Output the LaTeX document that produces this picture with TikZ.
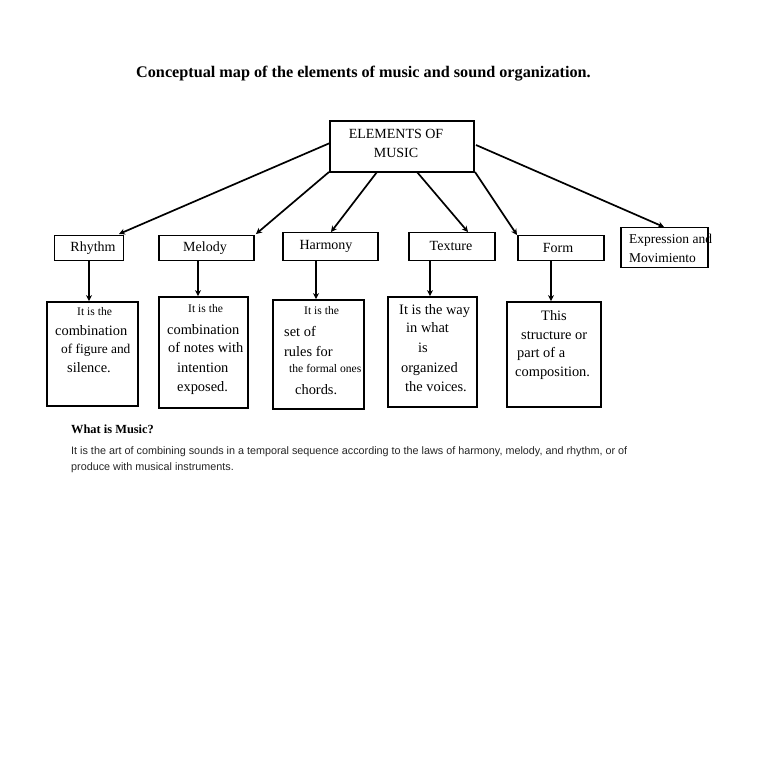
\documentclass[tikz,border=0pt]{standalone}
\usepackage{fontspec}
\setmainfont{Liberation Serif}
\setsansfont{Liberation Sans}
\usetikzlibrary{arrows.meta}
\tikzset{
  box/.style={draw=black, line width=1.8pt, inner sep=0pt},
  conn/.style={line width=1.7pt, -{Stealth[length=6pt,width=6pt]}},
  txt/.style={inner sep=0pt, anchor=base west, font=\fontsize{14.4}{16}\selectfont},
  small/.style={inner sep=0pt, anchor=base west, font=\fontsize{11.6}{13}\selectfont},
  lbl/.style={inner sep=0pt, font=\fontsize{14}{16}\selectfont},
}
\begin{document}
\begin{tikzpicture}[x=1pt,y=-1pt]
\path[use as bounding box, fill=white] (0,0) rectangle (768,762);

\node[inner sep=0pt, anchor=base west, font=\fontsize{16.2}{18}\selectfont\bfseries] (title) at (136,78) {Conceptual map of the elements of music and sound organization.};

% main box
\node[box, minimum width=144pt, minimum height=51pt] (elem) at (402,146.5) {};
\node[lbl] (elemA) at (396,134) {ELEMENTS OF};
\node[lbl] (elemB) at (396,153) {MUSIC};

% category boxes
\node[box, minimum width=69pt, minimum height=25pt] (rhy) at (89,248) {};
\node[lbl] (rhyT) at (93,248) {Rhythm};
\node[box, minimum width=95pt, minimum height=25pt] (mel) at (206.5,248) {};
\node[lbl] (melT) at (205,248) {Melody};
\node[box, minimum width=95pt, minimum height=28pt] (har) at (330.5,246.5) {};
\node[lbl] (harT) at (326,246) {Harmony};
\node[box, minimum width=86pt, minimum height=28pt] (tex) at (452,246.5) {};
\node[lbl] (texT) at (451,246) {Texture};
\node[box, minimum width=86pt, minimum height=25pt] (frm) at (561,248) {};
\node[lbl] (frmT) at (558,248) {Form};
\node[box, minimum width=87pt, minimum height=40pt] (exp) at (664.5,247.5) {};
\node[inner sep=0pt, anchor=base west, font=\fontsize{13.5}{15}\selectfont] (expA) at (629,243) {Expression and};
\node[inner sep=0pt, anchor=base west, font=\fontsize{13.5}{15}\selectfont] (expB) at (629,262) {Movimiento};

% connectors from main box
\coordinate (e1) at (330,143);
\coordinate (e2) at (329,172);
\coordinate (e3) at (377,172);
\coordinate (e4) at (417,172);
\coordinate (e5) at (475,172);
\coordinate (e6) at (476,145);
\coordinate (r1) at (119,234);
\coordinate (m1) at (256,234);
\coordinate (h1) at (331,232);
\coordinate (t1) at (468,232);
\coordinate (f1) at (517,235);
\coordinate (x1) at (664,227);
\draw[conn] (e1) -- (r1);
\draw[conn] (e2) -- (m1);
\draw[conn] (e3) -- (h1);
\draw[conn] (e4) -- (t1);
\draw[conn] (e5) -- (f1);
\draw[conn] (e6) -- (x1);

% description boxes
\node[box, minimum width=91pt, minimum height=104pt] (rhyD) at (92.5,354) {};
\node[box, minimum width=89pt, minimum height=111pt] (melD) at (203.5,352.5) {};
\node[box, minimum width=91pt, minimum height=109pt] (harD) at (318.5,354.5) {};
\node[box, minimum width=89pt, minimum height=110pt] (texD) at (432.5,352) {};
\node[box, minimum width=94pt, minimum height=105pt] (frmD) at (554,354.5) {};

\coordinate (rs) at (rhy.south);
\coordinate (ms) at ([xshift=-8.5pt]mel.south);
\coordinate (hs) at ([xshift=-14.5pt]har.south);
\coordinate (ts) at ([xshift=-22pt]tex.south);
\coordinate (fs) at ([xshift=-10pt]frm.south);
\draw[conn] (rs) -- (rs |- rhyD.north);
\draw[conn] (ms) -- (ms |- melD.north);
\draw[conn] (hs) -- (hs |- harD.north);
\draw[conn] (ts) -- (ts |- texD.north);
\draw[conn] (fs) -- (fs |- frmD.north);

% Rhythm text
\node[small] (r_a) at (77,315) {It is the};
\node[txt] (r_b) at (55,335) {combination};
\node[txt, font=\fontsize{13.4}{15}\selectfont] (r_c) at (61,353) {of figure and};
\node[txt] (r_d) at (67,372) {silence.};
% Melody text
\node[small] (m_a) at (188,312) {It is the};
\node[txt] (m_b) at (167,334) {combination};
\node[txt] (m_c) at (168,352) {of notes with};
\node[txt] (m_d) at (177,372) {intention};
\node[txt] (m_e) at (177,391) {exposed.};
% Harmony text
\node[small] (h_a) at (304,314) {It is the};
\node[txt] (h_b) at (284,336) {set of};
\node[txt] (h_c) at (284,356) {rules for};
\node[small] (h_d) at (289,372) {the formal ones};
\node[txt] (h_e) at (295,394) {chords.};
% Texture text
\node[txt] (t_a) at (399,314) {It is the way};
\node[txt] (t_b) at (406,332) {in what};
\node[txt] (t_c) at (418,352) {is};
\node[txt] (t_d) at (401,372) {organized};
\node[txt] (t_e) at (405,391) {the voices.};
% Form text
\node[txt] (f_a) at (541,320) {This};
\node[txt] (f_b) at (521,339) {structure or};
\node[txt] (f_c) at (517,357) {part of a};
\node[txt] (f_d) at (515,376) {composition.};

% bottom text
\node[inner sep=0pt, anchor=base west, font=\fontsize{12.4}{14}\selectfont\bfseries] (q) at (71,433) {What is Music?};
\node[inner sep=0pt, anchor=base west, text=black!85, font=\sffamily\fontsize{10.8}{13}\selectfont] (ans1) at (71,454.5) {It is the art of combining sounds in a temporal sequence according to the laws of harmony, melody, and rhythm, or of};
\node[inner sep=0pt, anchor=base west, text=black!85, font=\sffamily\fontsize{10.8}{13}\selectfont] (ans2) at (71,470) {produce with musical instruments.};
\end{tikzpicture}
\end{document}
